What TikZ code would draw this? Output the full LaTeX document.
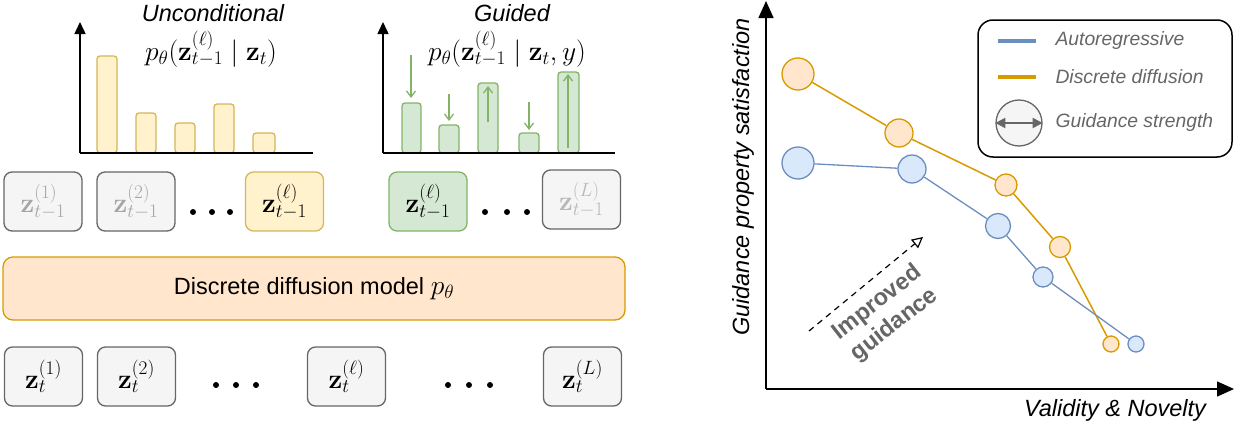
\RequirePackage{fix-cm}
\documentclass[tikz,border=0pt]{standalone}
\usepackage[no-math]{fontspec}
\setmainfont{Liberation Sans}
\usetikzlibrary{arrows.meta}
\definecolor{ylfill}{HTML}{FFF2CC}
\definecolor{ylline}{HTML}{D6B656}
\definecolor{grfill}{HTML}{D5E8D4}
\definecolor{grline}{HTML}{82B366}
\definecolor{gyfill}{HTML}{F5F5F5}
\definecolor{gyline}{HTML}{666666}
\definecolor{gytext}{HTML}{A6A6A6}
\definecolor{gytextb}{HTML}{B8B8B8}
\definecolor{orfill}{HTML}{FFE6CC}
\definecolor{orline}{HTML}{D79B00}
\definecolor{blfill}{HTML}{DAE8FC}
\definecolor{blline}{HTML}{6C8EBF}
\newcommand\mfont{\fontsize{27.5}{32}\selectfont}
\newcommand\tfont{\fontsize{23.5}{28}\selectfont}
\newcommand\lfont{\fontsize{19.3}{23}\selectfont}
\begin{document}
\begin{tikzpicture}[x=1pt,y=-1pt,
  tok/.style={rounded corners=8pt, line width=1.3pt, minimum width=78pt, minimum height=59pt, inner sep=0pt, font=\mfont},
  greytok/.style={tok, fill=gyfill, draw=gyline},
  ybar/.style={fill=ylfill, draw=ylline, line width=1.3pt, rounded corners=3pt},
  gbar/.style={fill=grfill, draw=grline, line width=1.3pt, rounded corners=3pt},
  garrow/.style={grline, line width=1.3pt, -{Straight Barb[length=6pt,width=9pt]}},
  axisl/.style={line width=1.5pt, -{Triangle[length=12pt,width=11pt]}},
  axisr/.style={line width=1.5pt, -{Triangle[length=17pt,width=15pt]}},
  dotc/.style={fill=black},
  opt/.style={circle, inner sep=0pt, line width=1.3pt, draw=orline, fill=orfill},
  bpt/.style={circle, inner sep=0pt, line width=1.3pt, draw=blline, fill=blfill},
  oline/.style={orline, line width=1.5pt},
  bline/.style={blline, line width=1.3pt},
  legtext/.style={anchor=west, text=gyline, font=\lfont\itshape},
]
\useasboundingbox (0,0) rectangle (1235,423);

% ---------- left histogram (unconditional)
\draw[ybar] (97,153) rectangle (117,56);
\draw[ybar] (136,153) rectangle (156,113);
\draw[ybar] (175,153) rectangle (195,123);
\draw[ybar] (214,153) rectangle (234,104);
\draw[ybar] (253,153) rectangle (275,133);
\coordinate (o1) at (80,153);
\coordinate (y1) at (80,22);
\coordinate (x1) at (313,153);
\draw[axisl] (o1) -- (y1);
\draw[line width=1.5pt] (o1) -- (x1);
\node[anchor=base, font=\tfont\itshape] (unc) at (213,21) {Unconditional};
\node[anchor=base, font=\mfont] (uncm) at (211,60) {$p_\theta(\mathbf{z}_{t-1}^{(\ell)}\mid\mathbf{z}_t)$};

% ---------- guided histogram
\draw[gbar] (402,153) rectangle (421,103);
\draw[gbar] (439,153) rectangle (459,125);
\draw[gbar] (478,153) rectangle (498,83);
\draw[gbar] (519,153) rectangle (539,133);
\draw[gbar] (558,153) rectangle (579,72);
\draw[garrow] (411,55) -- (411,98);
\draw[garrow] (449,94) -- (449,121);
\draw[garrow] (488,122) -- (488,86);
\draw[garrow] (529,102) -- (529,130);
\draw[garrow] (568,148) -- (568,74);
\coordinate (o2) at (383,153);
\coordinate (y2) at (383,22);
\coordinate (x2) at (615,153);
\draw[axisl] (o2) -- (y2);
\draw[line width=1.5pt] (o2) -- (x2);
\node[anchor=base, font=\tfont\itshape] (gui) at (512,21) {Guided};
\node[anchor=base, font=\mfont] (guim) at (507,60) {$p_\theta(\mathbf{z}_{t-1}^{(\ell)}\mid\mathbf{z}_t, y)$};

% ---------- top token row
\node[greytok, text=gytext] (a1) at (43,201.5) {$\mathbf{z}_{t-1}^{(1)}$};
\node[greytok, text=gytext] (a2) at (136,201.5) {$\mathbf{z}_{t-1}^{(2)}$};
\node[tok, fill=ylfill, draw=ylline] (a3) at (284.5,201.5) {$\mathbf{z}_{t-1}^{(\ell)}$};
\node[tok, fill=grfill, draw=grline] (a4) at (428,201.5) {$\mathbf{z}_{t-1}^{(\ell)}$};
\node[greytok, text=gytextb] (a5) at (581.5,199.5) {$\mathbf{z}_{t-1}^{(L)}$};
\foreach \x in {193,212,230,485,507,527} \fill[dotc] (\x,212) circle (3);

% ---------- model
\node[draw=orline, fill=orfill, rounded corners=10pt, line width=1.3pt, minimum width=622pt, minimum height=63pt, inner sep=0pt] (model) at (314,288.5) {\tfont Discrete diffusion model {\mfont$p_\theta$}};

% ---------- bottom token row
\node[greytok] (b1) at (43.5,376.5) {$\mathbf{z}_{t}^{(1)}$};
\node[greytok] (b2) at (136.5,376.5) {$\mathbf{z}_{t}^{(2)}$};
\node[greytok] (b3) at (346.5,376.5) {$\mathbf{z}_{t}^{(\ell)}$};
\node[greytok] (b4) at (582.5,376.5) {$\mathbf{z}_{t}^{(L)}$};
\foreach \x in {216,236,256,448,469,490} \fill[dotc] (\x,385) circle (3);

% ---------- right chart
\coordinate (ro) at (766,389);
\coordinate (ry) at (766,1);
\coordinate (rx) at (1234,389);
\draw[axisr] (ro) -- (ry);
\draw[axisr] (ro) -- (rx);
\node[rotate=90, font=\tfont\itshape] (ylab) at (743,177) {Guidance property satisfaction};
\node[font=\tfont\itshape] (xlab) at (1115,410) {Validity \& Novelty};

\node[opt, minimum size=32pt] (p1) at (798,74) {};
\node[opt, minimum size=28pt] (p2) at (899,133) {};
\node[opt, minimum size=22pt] (p3) at (1006,185) {};
\node[opt, minimum size=21pt] (p4) at (1060,247) {};
\node[opt, minimum size=16pt] (p5) at (1111,344) {};
\node[bpt, minimum size=32pt] (q1) at (798,163) {};
\node[bpt, minimum size=28pt] (q2) at (912,169) {};
\node[bpt, minimum size=25pt] (q3) at (998,226) {};
\node[bpt, minimum size=20pt] (q4) at (1043,277) {};
\node[bpt, minimum size=16pt] (q5) at (1136,344) {};
\foreach \a/\b in {p1/p2,p2/p3,p3/p4,p4/p5} \draw[oline] (\a) -- (\b);
\foreach \a/\b in {q1/q2,q2/q3,q3/q4,q4/q5} \draw[bline] (\a) -- (\b);

% improved guidance
\coordinate (ds) at (809,331);
\coordinate (de) at (923,237);
\draw[line width=1.2pt, dash pattern=on 6pt off 5pt, -{Triangle[open,length=11pt,width=11pt]}] (ds) -- (de);
\node[rotate=38, align=center, text=gyline, font=\fontsize{23.5}{28}\selectfont\bfseries] (imp) at (886,314) {Improved\\guidance};

% legend
\node[draw, rounded corners=15pt, line width=1.5pt, minimum width=254pt, minimum height=137pt] (leg) at (1105,88.5) {};
\draw[blline, line width=4pt] (998,41) -- (1036,41);
\draw[orline, line width=4pt] (998,77) -- (1036,77);
\node[legtext] (l1) at (1052,41) {Autoregressive};
\node[legtext] (l2) at (1052,77) {Discrete diffusion};
\node[circle, minimum size=46pt, inner sep=0pt, fill=gyfill, draw=gyline, line width=1.3pt] (gs) at (1019,123) {};
\draw[gyline, line width=2pt, {Triangle[length=10pt,width=10pt]}-{Triangle[length=10pt,width=10pt]}] (gs.west) -- (gs.east);
\node[legtext] (l3) at (1052,123) {Guidance strength};
\end{tikzpicture}
\end{document}
